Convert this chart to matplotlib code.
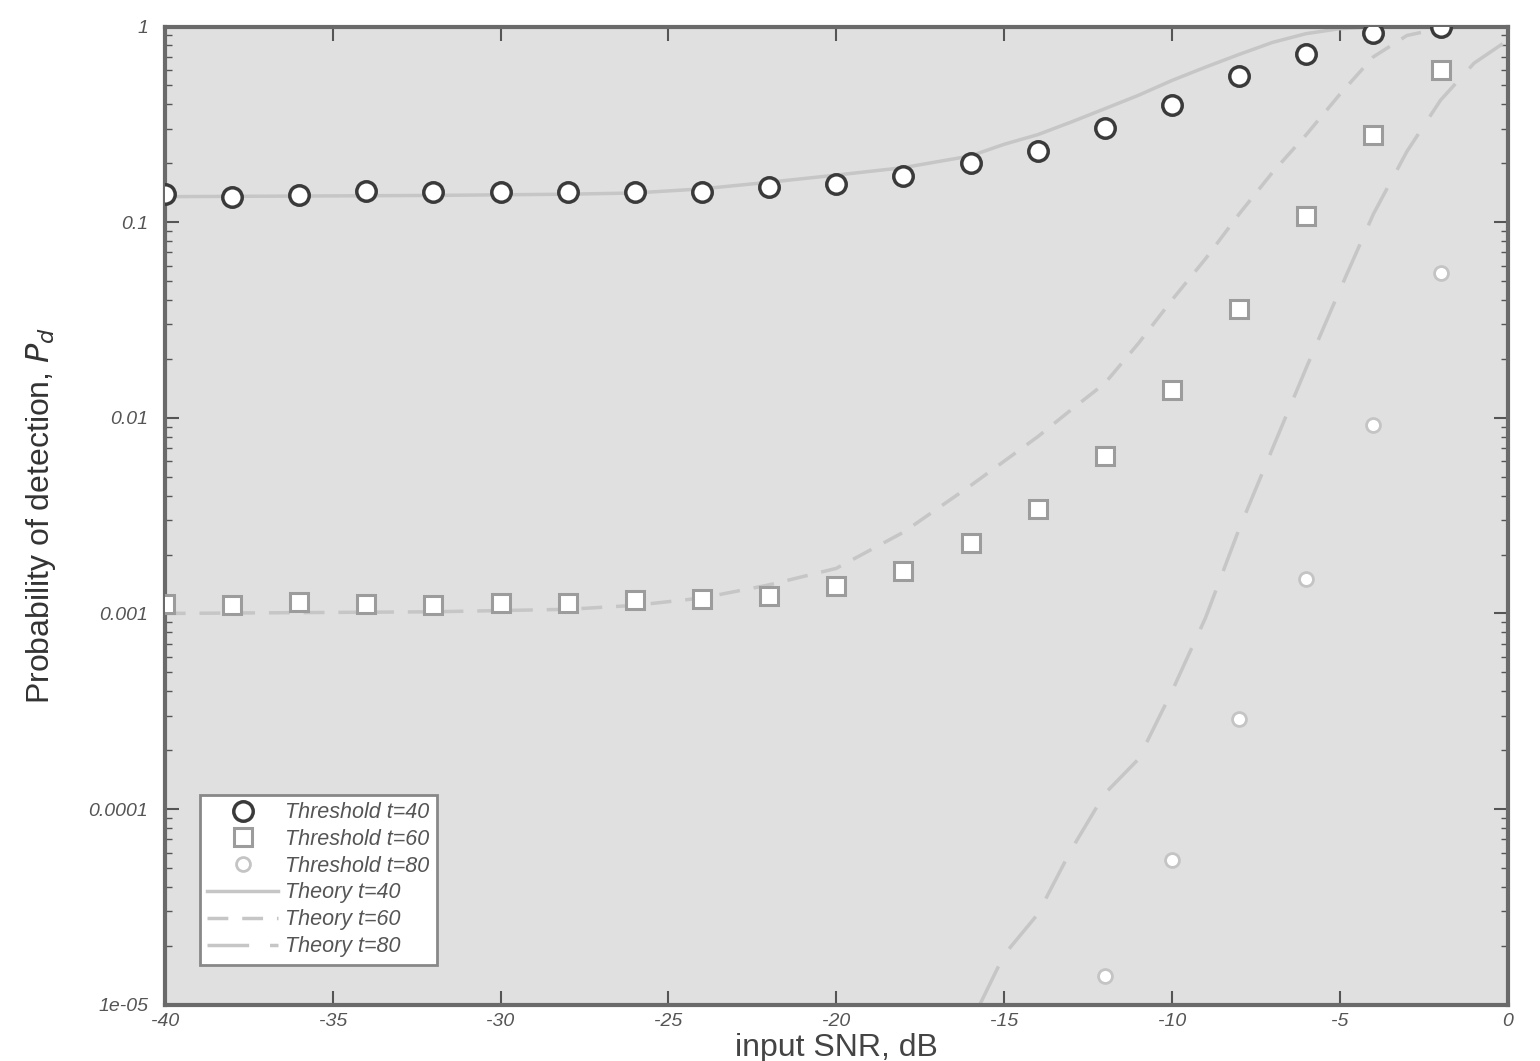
import matplotlib.pyplot as plt
from matplotlib.legend_handler import HandlerLine2D
from matplotlib.ticker import FixedLocator, LogLocator, NullFormatter

# 측정 데이터 (SNR, dB)
snr = [-40, -38, -36, -34, -32, -30, -28, -26, -24, -22,
       -20, -18, -16, -14, -12, -10, -8, -6, -4, -2]
pd_t40 = [0.140, 0.135, 0.138, 0.145, 0.142, 0.143, 0.142, 0.142, 0.142, 0.152,
          0.156, 0.173, 0.200, 0.232, 0.304, 0.395, 0.560, 0.720, 0.930, 0.990]
pd_t60 = [0.00112, 0.00111, 0.00115, 0.00112, 0.00111, 0.00113, 0.00113, 0.00117, 0.00118, 0.00123,
          0.00138, 0.00164, 0.00228, 0.0034, 0.0064, 0.0139, 0.0358, 0.107, 0.28, 0.596]
snr_t80 = [-12, -10, -8, -6, -4, -2]
pd_t80 = [1.4e-5, 5.5e-5, 2.9e-4, 0.0015, 0.0092, 0.055]

# 이론 곡선
snr_th = [-40, -36, -32, -28, -26, -24, -22, -20, -18, -16, -15, -14, -13, -12,
          -11, -10, -9, -8, -7, -6, -5, -4, -3, -2, -1, 0]
th_t40 = [0.135, 0.136, 0.137, 0.139, 0.141, 0.148, 0.160, 0.174, 0.190, 0.218, 0.250, 0.280, 0.325, 0.380,
          0.445, 0.530, 0.620, 0.720, 0.830, 0.920, 0.975, 0.995, 1.0, 1.0, 1.0, 1.0]
th_t60 = [0.00100, 0.00101, 0.00102, 0.00105, 0.00110, 0.00120, 0.00140, 0.00170, 0.0026, 0.0045, 0.0060, 0.0080, 0.0110, 0.0150,
          0.0240, 0.0400, 0.0650, 0.110, 0.180, 0.280, 0.450, 0.700, 0.900, 0.980, 0.998, 1.0]
snr_th80 = [-17, -16, -15, -14, -13, -12, -11, -10, -9, -8, -7, -6, -5, -4, -3, -2, -1, 0]
th_t80 = [2.5e-6, 8e-6, 1.8e-5, 2.9e-5, 6.2e-5, 1.2e-4, 1.8e-4, 4.0e-4, 9.5e-4, 0.0027, 0.0070, 0.0180,
          0.0450, 0.110, 0.230, 0.420, 0.650, 0.850]

x_ticks = [-40, -35, -30, -25, -20, -15, -10, -5, 0]
y_ticks = [1e-5, 1e-4, 1e-3, 1e-2, 1e-1, 1]
y_labels = ['1e-05', '0.0001', '0.001', '0.01', '0.1', '1']


# 범례에서 마커를 핸들 오른쪽 끝에 표시
class RightMarkerHandler(HandlerLine2D):
    def get_xdata(self, legend, xdescent, ydescent, width, height, fontsize):
        xdata, _ = super().get_xdata(legend, xdescent, ydescent, width, height, fontsize)
        return xdata, [-xdescent + width * 0.88]


plt.rcParams['font.family'] = ['Liberation Sans', 'DejaVu Sans']

fig = plt.figure(figsize=(15.4, 10.61), dpi=100)
ax = fig.add_axes([0.107, 0.053, 0.872, 0.922])
ax.set_facecolor('#e0e0e0')

line_col = '#c6c6c6'
ax.plot(snr_th, th_t40, color=line_col, lw=2.5, label='Theory t=40', zorder=2)
ax.plot(snr_th, th_t60, color=line_col, lw=2.5, ls=(0, (6, 4)), label='Theory t=60', zorder=2)
ax.plot(snr_th80, th_t80, color=line_col, lw=2.5, ls=(0, (12, 6)), label='Theory t=80', zorder=2)

ax.plot(snr, pd_t40, ls='none', marker='o', ms=14, mfc='white', mec='#3a3a3a', mew=2.5,
        label='Threshold t=40', zorder=4)
ax.plot(snr, pd_t60, ls='none', marker='s', ms=13, mfc='white', mec='#9c9c9c', mew=2.2,
        label='Threshold t=60', zorder=4)
ax.plot(snr_t80, pd_t80, ls='none', marker='o', ms=10, mfc='white', mec='#c4c4c4', mew=2.0,
        label='Threshold t=80', zorder=4)

ax.set_yscale('log')
ax.set_xlim(-40, 0)
ax.set_ylim(1e-5, 1)
ax.xaxis.set_major_locator(FixedLocator(x_ticks))
ax.set_xticklabels([str(v) for v in x_ticks])
ax.yaxis.set_major_locator(FixedLocator(y_ticks))
ax.set_yticklabels(y_labels)
ax.yaxis.set_minor_locator(LogLocator(base=10, subs=range(2, 10)))
ax.yaxis.set_minor_formatter(NullFormatter())

ax.tick_params(which='both', direction='in', top=True, right=True, color='#555555')
ax.tick_params(which='major', length=10, width=1.5, labelsize=14, labelcolor='#555555')
ax.tick_params(axis='y', which='major', pad=12)
ax.tick_params(axis='x', which='major', pad=6)
ax.tick_params(which='minor', length=5, width=1)
for lab in ax.get_xticklabels() + ax.get_yticklabels():
    lab.set_fontstyle('italic')
for sp in ax.spines.values():
    sp.set_color('#6a6a6a')
    sp.set_linewidth(3)

ax.set_xlabel('input SNR, dB', fontsize=23, color='#444444', labelpad=2)
ax.set_ylabel('Probability of detection, $P_d$', fontsize=23, color='#333333', labelpad=22)

handles, labels = ax.get_legend_handles_labels()
order = [3, 4, 5, 0, 1, 2]
leg = ax.legend([handles[i] for i in order], [labels[i] for i in order],
                loc='lower left', bbox_to_anchor=(0.026, 0.041), borderaxespad=0,
                fancybox=False, framealpha=1, edgecolor='#888888',
                handlelength=3.3, handletextpad=0.3, borderpad=0.35, labelspacing=0.27,
                prop={'style': 'italic', 'size': 15.5},
                handler_map={h: RightMarkerHandler() for h in handles})
leg.get_frame().set_linewidth(2)
for t in leg.get_texts():
    t.set_color('#555555')

plt.savefig('out.png', dpi=100)
